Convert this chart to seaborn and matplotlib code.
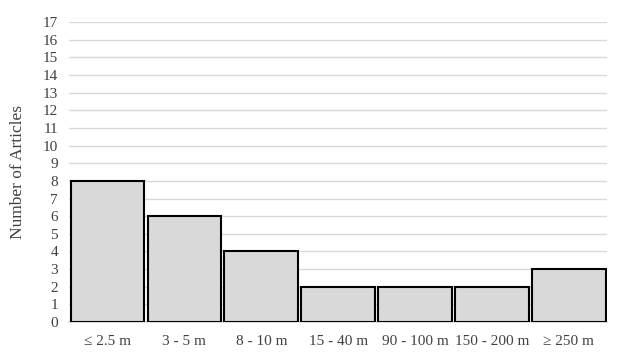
import matplotlib
matplotlib.use("Agg")
import matplotlib.pyplot as plt
import seaborn as sns
import pandas as pd

categories = ["≤ 2.5 m", "3 - 5 m", "8 - 10 m", "15 - 40 m", "90 - 100 m", "150 - 200 m", "≥ 250 m"]
counts = [8, 6, 4, 2, 2, 2, 3]
yticks = list(range(0, 18))

sns.set_theme(style="white")
plt.rcParams['font.family'] = ['Liberation Serif', 'DejaVu Serif']

df = pd.DataFrame({"cat": categories, "n": counts})

fig = plt.figure(figsize=(6.17, 3.57), dpi=100)
ax = fig.add_axes([0.112, 0.098, 0.872, 0.840])
sns.barplot(data=df, x="cat", y="n", color="#d9d9d9", saturation=1, width=0.96,
            edgecolor="black", linewidth=1.5, ax=ax, zorder=3)
ax.set_ylim(0, 17)
ax.set_xlim(-0.5, len(categories) - 0.5)
ax.set_yticks(yticks)
ax.yaxis.grid(True, color="#d9d9d9", linewidth=1, zorder=0)
ax.set_axisbelow(True)
for s in ["top", "right", "left"]:
    ax.spines[s].set_visible(False)
ax.spines["bottom"].set_color("#d9d9d9")
ax.tick_params(axis="both", length=0, labelsize=11, colors="#404040")
ax.tick_params(axis="x", pad=9)
ax.tick_params(axis="y", pad=8)
ax.set_xlabel("")
ax.set_ylabel("Number of Articles", fontsize=12.5, color="#404040", labelpad=12)
fig.savefig("out.png", dpi=100)
